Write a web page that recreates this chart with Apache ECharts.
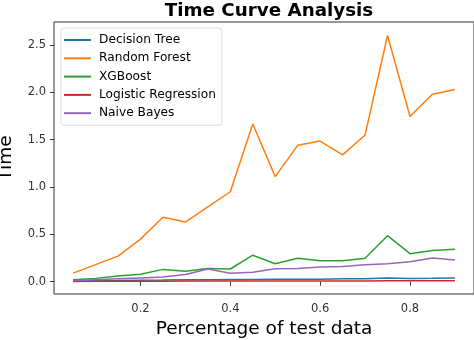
<!DOCTYPE html>
<html>
<head>
<meta charset="utf-8">
<script src="https://cdn.jsdelivr.net/npm/echarts@6/dist/echarts.min.js"></script>
<style>html,body{margin:0;padding:0;background:#fff;}#c{width:474px;height:340px;}</style>
</head>
<body>
<div id="c"></div>
<script>
const xValues = [0.05,0.1,0.15,0.2,0.25,0.3,0.35,0.4,0.45,0.5,0.55,0.6,0.65,0.7,0.75,0.8,0.85,0.9];
const decisionTree = [0.01,0.01,0.012,0.015,0.017,0.02,0.02,0.022,0.022,0.025,0.025,0.027,0.03,0.032,0.04,0.035,0.037,0.04];
const randomForest = [0.09,0.18,0.27,0.45,0.68,0.63,0.79,0.95,1.665,1.11,1.44,1.485,1.34,1.55,2.6,1.745,1.98,2.03];
const xgboost = [0.02,0.035,0.06,0.078,0.13,0.11,0.14,0.134,0.28,0.19,0.247,0.22,0.22,0.247,0.486,0.296,0.33,0.342];
const logisticRegression = [0.003,0.004,0.004,0.005,0.005,0.006,0.006,0.006,0.007,0.007,0.007,0.008,0.008,0.008,0.009,0.009,0.01,0.01];
const naiveBayes = [0.01,0.02,0.03,0.04,0.05,0.075,0.134,0.09,0.1,0.137,0.14,0.155,0.16,0.18,0.19,0.21,0.25,0.23];
const seriesNames = ['Decision Tree','Random Forest','XGBoost','Logistic Regression','Naive Bayes'];
const seriesData = [decisionTree, randomForest, xgboost, logisticRegression, naiveBayes];
const colors = ['#1f77b4','#ff7f0e','#2ca02c','#d62728','#9467bd'];
const xTicks = [0.2,0.4,0.6,0.8];
const yTicks = [0,0.5,1.0,1.5,2.0,2.5];

const chart = echarts.init(document.getElementById('c'));
const font = 'DejaVu Sans';
chart.setOption({
  animation: false,
  color: colors,
  title: {
    text: 'Time Curve Analysis',
    left: 264, top: -3, textAlign: 'center',
    textStyle: {fontFamily: font, fontWeight: 'bold', fontSize: 18.3, color: '#000'}
  },
  grid: {left: 54, right: 0, top: 22, bottom: 46, show: true, borderColor: '#333', borderWidth: 1,
    backgroundColor: 'transparent', outerBoundsMode: 'none', containLabel: false},
  legend: {
    orient: 'vertical', left: 61, top: 28,
    data: seriesNames,
    icon: 'rect', itemWidth: 27, itemHeight: 2, itemGap: 4.3,
    padding: [5, 6, 5, 3],
    borderColor: '#ddd', borderWidth: 1, borderRadius: 3,
    backgroundColor: '#fff',
    textStyle: {fontFamily: font, fontSize: 12.2, color: '#000', lineHeight: 14, padding: [0,0,0,3]}
  },
  xAxis: {
    type: 'value', min: 0.0075, max: 0.9425,
    name: 'Percentage of test data', nameLocation: 'middle', nameGap: 25,
    nameTextStyle: {fontFamily: font, fontSize: 18.5, color: '#000'},
    axisLine: {show: false},
    splitLine: {show: false},
    axisTick: {show: true, customValues: xTicks, length: 4, lineStyle: {color: '#333'}},
    axisLabel: {customValues: xTicks, fontFamily: font, fontSize: 11.5, color: '#333', margin: 9,
      formatter: v => v.toFixed(1)}
  },
  yAxis: {
    type: 'value', min: -0.13, max: 2.743,
    name: 'Time', nameLocation: 'middle', nameGap: 38, nameRotate: 90,
    nameTextStyle: {fontFamily: font, fontSize: 18.5, color: '#000'},
    axisLine: {show: false},
    splitLine: {show: false},
    axisTick: {show: true, customValues: yTicks, length: 4, lineStyle: {color: '#333'}},
    axisLabel: {customValues: yTicks, fontFamily: font, fontSize: 11.5, color: '#333', margin: 8,
      formatter: v => v.toFixed(1)}
  },
  series: seriesNames.map((n, i) => ({
    name: n, type: 'line', showSymbol: false, symbol: 'none',
    data: xValues.map((x, j) => [x, seriesData[i][j]]),
    lineStyle: {width: 1.5, color: colors[i]},
    itemStyle: {color: colors[i]}
  }))
});
</script>
</body>
</html>
